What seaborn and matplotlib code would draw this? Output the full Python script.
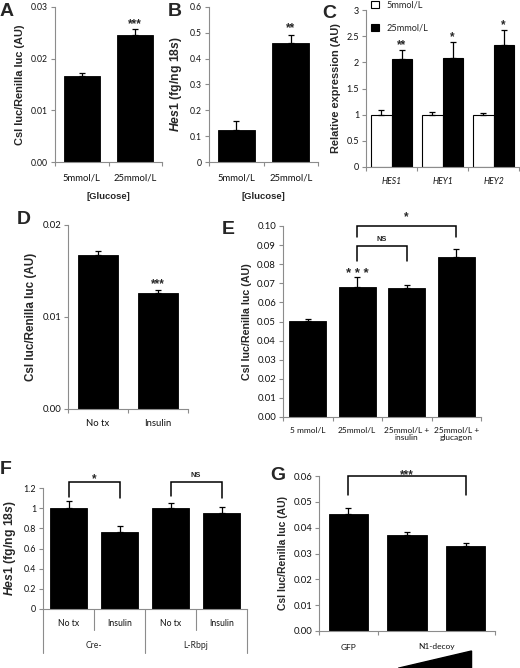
import matplotlib
matplotlib.use("Agg")
import matplotlib.pyplot as plt
from matplotlib.patches import Polygon, Rectangle, Patch
import matplotlib.transforms as mtransforms
import numpy as np
import pandas as pd
import seaborn as sns

# ---- data ----
# A: Csl luciferase vs glucose
a_cats = ["5mmol/L", "25mmol/L"]
a_mean = [0.0166, 0.0245]
a_err = [0.0006, 0.0012]
# B: Hes1 expression vs glucose
b_cats = ["5mmol/L", "25mmol/L"]
b_mean = [0.125, 0.46]
b_err = [0.035, 0.03]
# C: relative expression of target genes
c_genes = ["HES1", "HEY1", "HEY2"]
c_conds = ["5mmol/L", "25mmol/L"]
c_low = [1.0, 1.0, 1.0]
c_low_err = [0.09, 0.05, 0.04]
c_high = [2.06, 2.08, 2.34]
c_high_err = [0.17, 0.30, 0.28]
c_stars = ["**", "*", "*"]
# D: insulin treatment
d_cats = ["No tx", "Insulin"]
d_mean = [0.0167, 0.0126]
d_err = [0.0005, 0.0003]
# E: glucose + hormones
e_cats = ["5 mmol/L", "25mmol/L", "25mmol/L +\ninsulin", "25mmol/L +\nglucagon"]
e_mean = [0.0505, 0.068, 0.0675, 0.084]
e_err = [0.001, 0.0052, 0.0015, 0.0042]
# F: Hes1 in Cre- vs L-Rbpj
f_groups = ["Cre-", "Cre-", "L-Rbpj", "L-Rbpj"]
f_treat = ["No tx", "Insulin", "No tx", "Insulin"]
f_mean = [1.0, 0.765, 1.0, 0.955]
f_err = [0.07, 0.055, 0.055, 0.06]
# G: N1-decoy dose
g_cats = ["GFP", "N1-decoy low", "N1-decoy high"]
g_ticklabels = ["GFP", "N1-decoy"]
g_mean = [0.0453, 0.0373, 0.0328]
g_err = [0.0023, 0.001, 0.0011]

sns.set_theme(style="white")
plt.rcParams["font.family"] = ["Lato", "DejaVu Sans"]
plt.rcParams["mathtext.fontset"] = "custom"
plt.rcParams["mathtext.it"] = "Liberation Sans:italic:bold"
plt.rcParams["mathtext.rm"] = "Liberation Sans:bold"

W, H = 520, 668
GRAY = "#8c8c8c"
BOLD = "Liberation Sans"
fig = plt.figure(figsize=(W / 100, H / 100), dpi=100)


def make_ax(left, top, right, bottom):
    # pixel box -> figure fraction
    return fig.add_axes([left / W, 1 - bottom / H, (right - left) / W, (bottom - top) / H])


def style(ax, n, top, ticks, ticklabels, xlabels, yt, xt, minor=True, pad=7.5):
    ax.set_xlim(-0.5, n - 0.5)
    ax.set_ylim(0, top)
    ax.set_yticks(ticks, ticklabels)
    sns.despine(ax=ax)
    for s in ("left", "bottom"):
        ax.spines[s].set_color(GRAY)
        ax.spines[s].set_linewidth(0.8)
    ax.tick_params(axis="y", left=True, length=3, width=0.8, color=GRAY,
                   labelsize=yt, pad=2, labelcolor="#111111")
    if minor:
        ax.set_xticks(np.arange(n + 1) - 0.5, minor=True)
        ax.tick_params(axis="x", which="minor", bottom=True, length=3,
                       width=0.8, color=GRAY)
    ax.set_xticks(range(len(xlabels)), xlabels)
    ax.tick_params(axis="x", which="major", bottom=False, length=0,
                   labelsize=xt, pad=pad, labelcolor="#111111")
    ax.set_xlabel("")
    ax.set_ylabel("")


def ylab(ax, s, size):
    ax.set_ylabel(s, fontsize=size, fontweight="bold", family=BOLD, labelpad=4)


def add_errors(ax, mean, err):
    # x positions straight from the drawn bars
    bars = [p for p in ax.patches if isinstance(p, Rectangle) and p.get_width() > 0]
    xs = sorted(p.get_x() + p.get_width() / 2 for p in bars)
    ax.errorbar(xs, mean, yerr=[np.zeros(len(err)), err], fmt="none",
                ecolor="black", elinewidth=0.9, capsize=2.3, capthick=0.9,
                zorder=3)
    return xs


def star(ax, x, y, s, size=8.5):
    ax.annotate(s, xy=(x, y), xytext=(0, -4.6), textcoords="offset points",
                ha="center", va="baseline", fontsize=size, fontweight="bold",
                family=BOLD, annotation_clip=False)


def ns(ax, x, y):
    ax.text(x, y, "NS", ha="center", va="bottom", fontsize=5.3,
            fontweight="bold", family=BOLD)


def bracket(ax, x0, x1, y, y0, y1):
    ax.plot([x0, x0, x1, x1], [y0, y, y, y1], color="black", lw=1.1,
            clip_on=False, solid_joinstyle="miter")


def letter(x, y, s):
    fig.text(x / W, 1 - y / H, s, fontsize=14, fontweight="bold",
             family=BOLD, ha="left", va="center")


bar_kw = dict(color="black", saturation=1, edgecolor="black", linewidth=0.6)

# ---- A ----
ax = make_ax(55, 7, 162, 162)
sns.barplot(x=a_cats, y=a_mean, width=0.68, ax=ax, **bar_kw)
xs = add_errors(ax, a_mean, a_err)
style(ax, 2, 0.03, [0, 0.01, 0.02, 0.03], ["0.00", "0.01", "0.02", "0.03"],
      a_cats, yt=6.2, xt=6.8, pad=8)
ylab(ax, "Csl luc/Renilla luc (AU)", 7.9)
ax.set_xlabel("[Glucose]", fontsize=6.8, fontweight="bold", family=BOLD, labelpad=7)
star(ax, xs[1], 0.0274, "***")

# ---- B ----
ax = make_ax(209, 7, 318, 162)
sns.barplot(x=b_cats, y=b_mean, width=0.68, ax=ax, **bar_kw)
xs = add_errors(ax, b_mean, b_err)
style(ax, 2, 0.6, [0, 0.1, 0.2, 0.3, 0.4, 0.5, 0.6],
      ["0", "0.1", "0.2", "0.3", "0.4", "0.5", "0.6"], b_cats, yt=6.2, xt=6.8, pad=8)
ylab(ax, r"$Hes1$ (fg/ng $18s$)", 8.8)
ax.set_xlabel("[Glucose]", fontsize=6.8, fontweight="bold", family=BOLD, labelpad=7)
star(ax, xs[1], 0.53, "**")

# ---- C ----
ax = make_ax(366, 10, 519, 167)
c_df = pd.DataFrame({
    "gene": c_genes * 2,
    "cond": [c_conds[0]] * 3 + [c_conds[1]] * 3,
    "value": c_low + c_high,
})
c_pal = {c_conds[0]: "white", c_conds[1]: "black"}
sns.barplot(data=c_df, x="gene", y="value", hue="cond", width=0.8,
            palette=c_pal, saturation=1, edgecolor="black", linewidth=0.8,
            legend=False, ax=ax)
c_mean = [v for pair in zip(c_low, c_high) for v in pair]
c_err = [v for pair in zip(c_low_err, c_high_err) for v in pair]
xs = add_errors(ax, c_mean, c_err)
style(ax, 3, 3, [0, 0.5, 1, 1.5, 2, 2.5, 3],
      ["0", "0.5", "1", "1.5", "2", "2.5", "3"], c_genes, yt=6.5, xt=6.2)
for t in ax.get_xticklabels():
    t.set_fontstyle("italic")
ylab(ax, "Relative expression (AU)", 7.9)
for i, s in enumerate(c_stars):
    star(ax, xs[2 * i + 1], [2.39, 2.55, 2.78][i], s)
handles = [Patch(facecolor=c_pal[c], edgecolor="black", linewidth=0.8) for c in c_conds]
ax.legend(handles, c_conds, loc="upper left", bbox_to_anchor=(370 / W, 1.0),
          bbox_transform=fig.transFigure, frameon=False, fontsize=6.6,
          handlelength=0.85, handleheight=0.85, handletextpad=0.8,
          labelspacing=1.5, borderpad=0.1, borderaxespad=0)

# ---- D ----
ax = make_ax(68, 225, 188, 409)
sns.barplot(x=d_cats, y=d_mean, width=0.67, ax=ax, **bar_kw)
xs = add_errors(ax, d_mean, d_err)
style(ax, 2, 0.02, [0, 0.01, 0.02], ["0.00", "0.01", "0.02"], d_cats, yt=6.9, xt=6.8)
ylab(ax, "Csl luc/Renilla luc (AU)", 8.4)
star(ax, xs[1], 0.01395, "***")

# ---- E ----
ax = make_ax(283, 226, 481, 417)
sns.barplot(x=e_cats, y=e_mean, width=0.75, ax=ax, **bar_kw)
xs = add_errors(ax, e_mean, e_err)
e_ticks = np.arange(0, 0.101, 0.01)
style(ax, 4, 0.1, e_ticks, [f"{v:.2f}" for v in e_ticks], e_cats, yt=6.9, xt=6.0, pad=7)
ylab(ax, "Csl luc/Renilla luc (AU)", 7.7)
for t in ax.get_xticklabels():
    t.set_linespacing(1.1)
star(ax, xs[1], 0.0768, "* * *", size=9.5)
bracket(ax, xs[1], xs[3], 0.1, 0.094, 0.094)
star(ax, xs[2], 0.1066, "*")
bracket(ax, xs[1], xs[2], 0.0895, 0.0815, 0.0815)
ns(ax, (xs[1] + xs[2]) / 2, 0.0912)

# ---- F ----
ax = make_ax(43, 488, 247, 609)
f_x = [g + " " + t for g, t in zip(f_groups, f_treat)]
sns.barplot(x=f_x, y=f_mean, width=0.72, ax=ax, **bar_kw)
xs = add_errors(ax, f_mean, f_err)
style(ax, 4, 1.2, [0, 0.2, 0.4, 0.6, 0.8, 1.0, 1.2],
      ["0", "0.2", "0.4", "0.6", "0.8", "1", "1.2"], f_treat, yt=6.4, xt=6.2,
      minor=False)
ylab(ax, r"$Hes1$ (fg/ng $18s$)", 8.8)
trans = mtransforms.blended_transform_factory(ax.transData, ax.transAxes)
for xb, depth in [(-0.5, -0.364), (0.5, -0.174), (1.5, -0.364),
                  (2.5, -0.174), (3.5, -0.364)]:
    ax.plot([xb, xb], [0, depth], color=GRAY, lw=0.8, transform=trans,
            clip_on=False)
for i, g in enumerate(dict.fromkeys(f_groups)):
    ax.text(2 * i + 0.5, -0.305, g, transform=trans, ha="center", va="center",
            fontsize=6.2)
bracket(ax, xs[0], xs[1], 1.26, 1.11, 1.10)
star(ax, (xs[0] + xs[1]) / 2, 1.32, "*")
bracket(ax, xs[2], xs[3], 1.26, 1.12, 1.10)
ns(ax, (xs[2] + xs[3]) / 2, 1.285)

# ---- G ----
ax = make_ax(319, 476, 495, 631)
sns.barplot(x=g_cats, y=g_mean, width=0.67, ax=ax, **bar_kw)
xs = add_errors(ax, g_mean, g_err)
g_ticks = np.arange(0, 0.061, 0.01)
style(ax, 3, 0.06, g_ticks, [f"{v:.2f}" for v in g_ticks], g_cats, yt=6.8, xt=6.0)
ax.set_xticks([0, 1.5], g_ticklabels)
ax.tick_params(axis="x", which="major", pad=9)
ylab(ax, "Csl luc/Renilla luc (AU)", 7.5)
bracket(ax, xs[0], xs[2], 0.06, 0.0525, 0.0525)
star(ax, (xs[0] + xs[2]) / 2, 0.0618, "***")
trans = mtransforms.blended_transform_factory(ax.transData, ax.transAxes)
ax.add_patch(Polygon([(0.85, -0.24), (2.1, -0.129), (2.1, -0.24)],
                     closed=True, color="black", transform=trans, clip_on=False))

letter(0, 11, "A")
letter(168, 11, "B")
letter(322, 13, "C")
letter(17, 220, "D")
letter(222, 229, "E")
letter(0, 470, "F")
letter(270, 476, "G")

fig.savefig("out.png", dpi=100)
